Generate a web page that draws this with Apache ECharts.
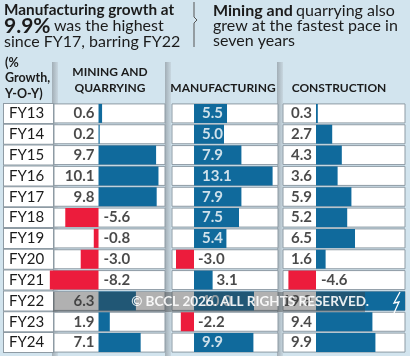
<!DOCTYPE html>
<html><head><meta charset="utf-8">
<script src="https://cdn.jsdelivr.net/npm/echarts@6/dist/echarts.min.js"></script>
<style>html,body{margin:0;padding:0;background:#d2e4ee}#c{width:410px;height:356px}</style>
</head><body><div id="c"></div>
<script>
const years = ['FY13','FY14','FY15','FY16','FY17','FY18','FY19','FY20','FY21','FY22','FY23','FY24'];
const mining = [0.6,0.2,9.7,10.1,9.8,-5.6,-0.8,-3.0,-8.2,6.3,1.9,7.1];
const manufacturing = [5.5,5.0,7.9,13.1,7.9,7.5,5.4,-3.0,3.1,10.0,-2.2,9.9];
const construction = [0.3,2.7,4.3,3.6,5.9,5.2,6.5,1.6,-4.6,19.9,9.4,9.9];
const columnTitles = ['MINING AND\nQUARRYING','MANUFACTURING','CONSTRUCTION'];
const unitLabel = '(%\nGrowth,\nY-O-Y)';

const BLUE = '#106a9c', RED = '#ec1c3c', DARK = '#1b1b1b', CELLBORDER = '#8e9ba4';
const FONT = 'Lato';

const chart = echarts.init(document.getElementById('c'), null, {renderer:'canvas'});

const gridDefs = [
  {left:53, right:245, min:-7.5, max:11.2},
  {left:172, right:132, min:-3.67, max:14},
  {left:283, right:5, min:-5.5, max:14.83}
];
const seriesData = [mining, manufacturing, construction];

const grids = gridDefs.map(g => ({left:g.left, right:g.right, top:103, bottom:3}));
const xAxes = gridDefs.map((g,i) => ({gridIndex:i, type:'value', min:g.min, max:g.max, show:false}));
const yAxes = gridDefs.map((g,i) => ({
  gridIndex:i, type:'category', data:years, inverse:true,
  axisLine:{show:false}, axisTick:{show:false}, splitLine:{show:false},
  axisLabel: i===0 ? {
    show:true, align:'left', margin:50, fontFamily:FONT, fontSize:15, color:DARK,
    backgroundColor:'#fff', borderColor:CELLBORDER, borderWidth:1,
    width:44, height:19, lineHeight:19, padding:[0,0,0,5]
  } : {show:false}
}));

const fmt = v => v.toFixed(1);
const series = [];
seriesData.forEach((arr, i) => {
  series.push({
    type:'bar', xAxisIndex:i, yAxisIndex:i, barWidth:19, clip: i===2,
    showBackground:true,
    backgroundStyle:{color:'#fff', borderColor:CELLBORDER, borderWidth:1},
    data: arr.map(v => ({value:v, itemStyle:{color: v<0 ? RED : BLUE}})),
    silent:true, z:2
  });
  const labels = arr.map((v, k) => {
    let anchor = 0, position, color = DARK, distance = 4;
    if (i === 0 || i === 2) {
      position = v >= 0 ? 'left' : 'right';
      if (v < 0) distance = 5;
    } else {
      if (v >= 4) { position = 'right'; color = '#fff'; distance = 8; }
      else if (v >= 0) { anchor = v; position = 'right'; distance = 4; }
      else { position = 'right'; distance = 4; }
    }
    return {value:[anchor, years[k], v], label:{position, color, distance}};
  });
  series.push({
    type:'scatter', xAxisIndex:i, yAxisIndex:i, symbolSize:0.01, silent:true, z:5,
    itemStyle:{color:'transparent'},
    label:{show:true, fontFamily:FONT, fontWeight:'bold', fontSize:15,
      formatter: p => fmt(p.value[2])},
    data: labels
  });
});

const bandY = 62;
const band = x => ({type:'rect', shape:{x:x, y:bandY, width:6, height:356-bandY}, z:0,
  style:{fill:new echarts.graphic.LinearGradient(0,0,1,0,[{offset:0,color:'#a2aeb6'},{offset:1,color:'#c8d7e0'}])}});

const graphic = [
  band(52), band(165), band(277),
  {type:'text', x:4, y:2, z:10, style:{
    text:'{b|Manufacturing growth at}\n{big|9.9%} {r|was the highest}\n{r|since FY17, barring FY22}',
    rich:{
      b:{fontFamily:FONT, fontWeight:'bold', fontSize:15.3, lineHeight:16, fill:DARK},
      big:{fontFamily:FONT, fontWeight:'bold', fontSize:21, lineHeight:16, fill:DARK},
      r:{fontFamily:FONT, fontSize:16, lineHeight:16, fill:DARK}
    }}},
  {type:'polyline', z:10, shape:{points:[[194,2],[194,17],[197,20],[194,23],[194,47]]},
    style:{stroke:'#555', lineWidth:1, fill:null}},
  {type:'text', x:213, y:3, z:10, style:{
    text:'{b|Mining and} {r|quarrying also}\n{r|grew at the fastest pace in}\n{r|seven years}',
    rich:{
      b:{fontFamily:FONT, fontWeight:'bold', fontSize:16, lineHeight:15, fill:DARK},
      r:{fontFamily:FONT, fontSize:16, lineHeight:15, fill:DARK}
    }}},
  {type:'text', x:5, y:55, z:10, style:{text:unitLabel, fontFamily:FONT, fontWeight:'bold',
    fontSize:12.5, lineHeight:15.5, fill:DARK}},
  {type:'text', x:110, y:64, z:10, style:{text:columnTitles[0], align:'center', fontFamily:FONT,
    fontWeight:'bold', fontSize:12, lineHeight:16, fill:DARK}},
  {type:'text', x:223, y:80, z:10, style:{text:columnTitles[1], align:'center', fontFamily:FONT,
    fontWeight:'bold', fontSize:12, lineHeight:16, fill:DARK}},
  {type:'text', x:339, y:80, z:10, style:{text:columnTitles[2], align:'center', fontFamily:FONT,
    fontWeight:'bold', fontSize:12, lineHeight:16, fill:DARK}},
  {type:'polyline', z:12, shape:{points:[[400,292],[394,303],[399,302],[394,313]]},
    style:{stroke:'#fff', lineWidth:1.3, fill:null}},
  {type:'rect', z:20, shape:{x:53, y:292, width:312, height:20},
    style:{fill:'rgba(60,60,60,0.4)'}},
  {type:'text', z:21, x:250, y:302, style:{text:'© BCCL 2026. ALL RIGHTS RESERVED.',
    align:'center', verticalAlign:'middle', fontFamily:FONT, fontWeight:'bold', fontSize:13.5,
    fill:'rgba(255,255,255,0.9)'}}
];

chart.setOption({
  backgroundColor:'#d2e4ee',
  animation:false,
  grid:grids, xAxis:xAxes, yAxis:yAxes, series:series, graphic:graphic
});
</script></body></html>
